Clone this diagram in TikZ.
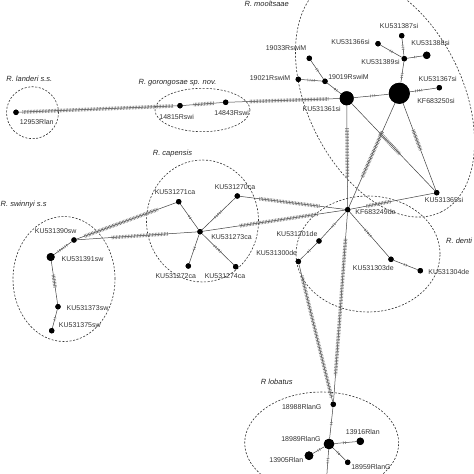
\documentclass[tikz,border=0pt]{standalone}
\usepackage{fontspec}
\setmainfont{Liberation Sans}
\usetikzlibrary{calc}
\tikzset{
 dot/.style={circle,fill=black,inner sep=0pt,minimum size=#1},
 dot/.default=5.4pt,
 lbl/.style={font=\fontsize{7}{8}\selectfont, text=black!80, inner sep=0pt},
 sp/.style={font=\fontsize{7.5}{9}\selectfont\itshape, text=black!85, inner sep=0pt},
 edge/.style={draw=black!75, line width=0.5pt},
 hatchline/.style={draw=black!60, line width=3.6pt, dash pattern=on 0.5pt off 1.0pt},
 tickline/.style={draw=black!60, line width=2.6pt, dash pattern=on 0.5pt off 1.6pt},
 grp/.style={draw=black!80, line width=0.6pt, dash pattern=on 2pt off 1.6pt},
}
\newcommand{\mhatch}[4]{\draw[hatchline] ($(#1)!#3!(#2)$) -- ($(#1)!#4!(#2)$);}
\newcommand{\mtick}[4]{\draw[tickline] ($(#1)!#3!(#2)$) -- ($(#1)!#4!(#2)$);}
\begin{document}
\begin{tikzpicture}[x=1pt,y=-1pt]
\useasboundingbox (0,0) rectangle (474,474);
\fill[white] (0,0) rectangle (474,474);
% group outlines
\draw[grp] (32.5,112.7) ellipse [x radius=26pt, y radius=26pt];
\draw[grp] (202.5,110) ellipse [x radius=47.5pt, y radius=21.7pt];
\draw[grp, rotate around={-64.2:(385,97)}] (385,97) ellipse [x radius=127.9pt, y radius=77.9pt];
\draw[grp] (202.5,221) ellipse [x radius=56pt, y radius=61pt];
\draw[grp] (64,279) ellipse [x radius=51pt, y radius=62.5pt];
\draw[grp] (368,254) ellipse [x radius=72pt, y radius=58pt];
\draw[grp] (321.7,443) ellipse [x radius=77pt, y radius=51pt];
% nodes (haplotypes)
\node[dot] (n12953) at (16,112.3) {};
\node[dot] (n14815) at (180,105.7) {};
\node[dot] (n14843) at (225.7,102.3) {};
\node[dot] (n19033) at (309.3,58.3) {};
\node[dot] (n19021) at (298.3,79.3) {};
\node[dot] (n19019) at (325,81.3) {};
\node[dot=14pt] (n361) at (346.7,98.3) {};
\node[dot=21pt] (n250) at (399.3,93.3) {};
\node[dot] (n367) at (439.3,87.7) {};
\node[dot] (n389) at (404.3,58.7) {};
\node[dot] (n387) at (401.7,35.7) {};
\node[dot] (n366) at (378,43.7) {};
\node[dot=7.4pt] (n388) at (426.7,55.3) {};
\node[dot] (n365) at (436.7,192.7) {};
\node[dot] (n249) at (347.7,209.7) {};
\node[dot] (n271) at (178.7,201.7) {};
\node[dot] (n270) at (237.3,196) {};
\node[dot] (n273) at (200,231.7) {};
\node[dot] (n272) at (188.3,266) {};
\node[dot] (n274) at (235.7,266.7) {};
\node[dot] (n201) at (319,241) {};
\node[dot] (n300) at (298.3,261.5) {};
\node[dot] (n303) at (391,259.3) {};
\node[dot] (n304) at (420.3,270.7) {};
\node[dot] (n390) at (74,240) {};
\node[dot=8pt] (n391) at (50.7,257) {};
\node[dot] (n373) at (58,306.7) {};
\node[dot] (n375) at (51.7,330.7) {};
\node[dot] (n18988) at (333.3,404.3) {};
\node[dot=10.5pt] (n18989) at (329,444) {};
\node[dot=7.4pt] (n13916) at (360.3,441.3) {};
\node[dot=8.6pt] (n13905) at (309,455.7) {};
\node[dot] (n18959) at (347.7,462.3) {};
\coordinate (below) at (326.5,480);
% edges
\draw[edge] (n12953) -- (n14815);
\draw[edge] (n14815) -- (n14843);
\draw[edge] (n14843) -- (n361);
\draw[edge] (n19033) -- (n19019);
\draw[edge] (n19021) -- (n19019);
\draw[edge] (n19019) -- (n361);
\draw[edge] (n361) -- (n250);
\draw[edge] (n250) -- (n389);
\draw[edge] (n389) -- (n387);
\draw[edge] (n389) -- (n366);
\draw[edge] (n389) -- (n388);
\draw[edge] (n250) -- (n367);
\draw[edge] (n361) -- (n249);
\draw[edge] (n361) -- (n365);
\draw[edge] (n250) -- (n249);
\draw[edge] (n250) -- (n365);
\draw[edge] (n249) -- (n365);
\draw[edge] (n270) -- (n249);
\draw[edge] (n273) -- (n249);
\draw[edge] (n273) -- (n271);
\draw[edge] (n273) -- (n270);
\draw[edge] (n273) -- (n272);
\draw[edge] (n273) -- (n274);
\draw[edge] (n390) -- (n271);
\draw[edge] (n390) -- (n273);
\draw[edge] (n390) -- (n391);
\draw[edge] (n391) -- (n373);
\draw[edge] (n373) -- (n375);
\draw[edge] (n249) -- (n201);
\draw[edge] (n201) -- (n300);
\draw[edge] (n249) -- (n303);
\draw[edge] (n303) -- (n304);
\draw[edge] (n300) -- (n18988);
\draw[edge] (n249) -- (n18988);
\draw[edge] (n18988) -- (n18989);
\draw[edge] (n18989) -- (n13916);
\draw[edge] (n18989) -- (n13905);
\draw[edge] (n18989) -- (n18959);
\draw[edge] (n18989) -- (below);
% mutation hatches
\mhatch{n12953}{n14815}{0.04}{0.96}
\mhatch{n14815}{n14843}{0.3}{0.75}
\mhatch{n14843}{n361}{0.2}{0.85}
\mhatch{n361}{n249}{0.27}{0.71}
\mhatch{n250}{n249}{0.33}{0.72}
\mhatch{n250}{n365}{0.37}{0.57}
\mhatch{n361}{n365}{0.37}{0.59}
\mhatch{n249}{n365}{0.21}{0.48}
\mhatch{n270}{n249}{0.2}{0.75}
\mhatch{n273}{n249}{0.27}{0.8}
\mhatch{n390}{n271}{0.1}{0.8}
\mhatch{n390}{n273}{0.3}{0.75}
\mhatch{n391}{n373}{0.36}{0.62}
\mhatch{n300}{n18988}{0.1}{0.95}
\mhatch{n249}{n18988}{0.15}{0.85}
\mtick{n19033}{n19019}{0.45}{0.55}
\mtick{n19021}{n19019}{0.35}{0.65}
\mtick{n19019}{n361}{0.45}{0.55}
\mtick{n361}{n250}{0.45}{0.55}
\mtick{n250}{n389}{0.45}{0.6}
\mtick{n389}{n387}{0.4}{0.6}
\mtick{n389}{n366}{0.45}{0.55}
\mtick{n389}{n388}{0.45}{0.55}
\mtick{n250}{n367}{0.4}{0.6}
\mtick{n273}{n271}{0.45}{0.55}
\mtick{n273}{n270}{0.4}{0.6}
\mtick{n273}{n272}{0.45}{0.55}
\mtick{n273}{n274}{0.4}{0.6}
\mtick{n249}{n201}{0.45}{0.55}
\mtick{n201}{n300}{0.45}{0.55}
\mtick{n249}{n303}{0.4}{0.55}
\mtick{n303}{n304}{0.45}{0.55}
\mtick{n390}{n391}{0.3}{0.7}
\mtick{n373}{n375}{0.45}{0.55}
\mtick{n18988}{n18989}{0.45}{0.55}
\mtick{n18989}{n13916}{0.45}{0.55}
\mtick{n18989}{n13905}{0.45}{0.55}
\mtick{n18989}{n18959}{0.45}{0.55}
\mtick{n18989}{below}{0.4}{0.55}
% redraw dots on top
\foreach \n/\s in {n12953/5.4pt,n14815/5.4pt,n14843/5.4pt,n19033/5.4pt,n19021/5.4pt,n19019/5.4pt,n361/14pt,n250/21pt,n367/5.4pt,n389/5.4pt,n387/5.4pt,n366/5.4pt,n388/7.4pt,n365/5.4pt,n249/5.4pt,n271/5.4pt,n270/5.4pt,n273/5.4pt,n272/5.4pt,n274/5.4pt,n201/5.4pt,n300/5.4pt,n303/5.4pt,n304/5.4pt,n390/5.4pt,n391/8pt,n373/5.4pt,n375/5.4pt,n18988/5.4pt,n18989/10.5pt,n13916/7.4pt,n13905/8.6pt,n18959/5.4pt}
  \node[dot=\s] at (\n) {};
% node labels
\node[lbl] (t12953) at (36.7,121.7) {12953Rlan};
\node[lbl] (t14815) at (176.7,116.7) {14815Rswi};
\node[lbl] (t14843) at (231.7,112.7) {14843Rswi};
\node[lbl] (t19021) at (270,77.5) {19021RswiM};
\node[lbl] (t19033) at (286,47.7) {19033RswiM};
\node[lbl] (t19019) at (348.5,76.7) {19019RswiM};
\node[lbl] (t361) at (321.7,109) {KU531361si};
\node[lbl] (t250) at (436,101) {KF683250si};
\node[lbl] (t367) at (437.7,78.7) {KU531367si};
\node[lbl] (t389) at (380.5,62.3) {KU531389si};
\node[lbl] (t388) at (430.5,43.3) {KU531388si};
\node[lbl] (t366) at (350.5,41.7) {KU531366si};
\node[lbl] (t387) at (399,25.7) {KU531387si};
\node[lbl] (t365) at (444,200) {KU531365si};
\node[lbl] (t249) at (375.5,212.3) {KF683249de};
\node[lbl] (t271) at (175,192.3) {KU531271ca};
\node[lbl] (t270) at (235,187.3) {KU531270ca};
\node[lbl] (t273) at (231.5,237.3) {KU531273ca};
\node[lbl] (t272) at (175.8,276) {KU531272ca};
\node[lbl] (t274) at (225,276) {KU531274ca};
\node[lbl] (t201) at (297,234.3) {KU531201de};
\node[lbl] (t300) at (276.7,253.3) {KU531300de};
\node[lbl] (t303) at (373.3,268.3) {KU531303de};
\node[lbl] (t304) at (448.8,271.7) {KU531304de};
\node[lbl] (t390) at (55.7,230.7) {KU531390sw};
\node[lbl] (t391) at (82.5,259.3) {KU531391sw};
\node[lbl] (t373) at (87.5,307.7) {KU531373sw};
\node[lbl] (t375) at (79.8,325.3) {KU531375sw};
\node[lbl] (t18988) at (301.7,406.7) {18988RlanG};
\node[lbl] (t18989) at (301,439.3) {18989RlanG};
\node[lbl] (t13916) at (362.8,431.7) {13916Rlan};
\node[lbl] (t13905) at (286.3,460) {13905Rlan};
\node[lbl] (t18959) at (371,467.3) {18959RlanG};
% species labels
\node[sp] (sLan) at (29.3,79.3) {R. landeri s.s.};
\node[sp] (sGor) at (177.5,82.3) {R. gorongosae sp. nov.};
\node[sp, anchor=north east] (sMoo) at (289,0.8) {R. mooltsaae};
\node[sp] (sCap) at (172.5,153.3) {R. capensis};
\node[sp, anchor=west] (sSwi) at (0.5,205) {R. swinnyi s.s};
\node[sp, anchor=west] (sDen) at (446,241) {R. denti};
\node[sp] (sLob) at (276.7,382.3) {R lobatus};
\end{tikzpicture}
\end{document}
